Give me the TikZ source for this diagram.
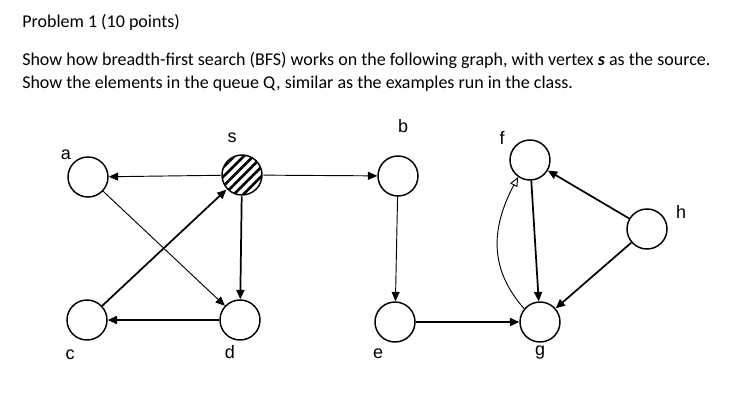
\documentclass[tikz,border=0pt]{standalone}
\usepackage{fontspec}
\setmainfont{Carlito}
\newfontfamily\lab{Liberation Sans}
\usetikzlibrary{arrows.meta,patterns.meta}
\begin{document}
\begin{tikzpicture}[x=0.75pt,y=-0.75pt,
  vtx/.style={circle,draw,line width=1.1pt,minimum size=30pt,inner sep=0pt},
  lbl/.style={font=\lab\fontsize{13.5}{13.5}\selectfont},
  txt/.style={anchor=west,font=\fontsize{13.5}{15}\selectfont,inner sep=0pt},
  edge/.style={-{Triangle[length=7pt,width=6pt]},line width=0.7pt},
  thick edge/.style={edge,line width=1.3pt}]
\useasboundingbox (0,0) rectangle (730,400);
\node[txt] (t1) at (22,22) {Problem 1 (10 points)};
\node[txt] (t2) at (22,60) {Show how breadth-first search (BFS) works on the following graph, with vertex \textbf{\textit{s}} as the source.};
\node[txt] (t3) at (22,84) {Show the elements in the queue Q, similar as the examples run in the class.};
\node[vtx] (a) at (88,177) {};
\node[vtx,pattern={Lines[angle=45,distance=5pt,line width=2pt]}] (s) at (242,175) {};
\node[vtx] (b) at (398,176) {};
\node[vtx] (c) at (87,320) {};
\node[vtx] (d) at (240,320) {};
\node[vtx] (e) at (395,322) {};
\node[vtx] (f) at (530,160) {};
\node[vtx] (g) at (540,322) {};
\node[vtx] (h) at (647,229) {};
\node[lbl] (la) at (66,155) {a};
\node[lbl] (ls) at (232,138) {s};
\node[lbl] (lb) at (403,126) {b};
\node[lbl] (lc) at (70,355) {c};
\node[lbl] (ld) at (230,352) {d};
\node[lbl] (le) at (378,354) {e};
\node[lbl] (lf) at (502,138) {f};
\node[lbl] (lg) at (540,353) {g};
\node[lbl] (lh) at (681,212) {h};
\draw[edge] (s) -- (a);
\draw[edge] (s) -- (b);
\draw[thick edge] (s) -- (d);
\draw[edge] (a) -- (d);
\draw[thick edge] (c) -- (s);
\draw[thick edge] (d) -- (c);
\draw[edge] (b) -- (e);
\draw[thick edge] (e) -- (g);
\draw[thick edge] (f) -- (g);
\draw[thick edge] (h) -- (f);
\draw[thick edge] (h) -- (g);
\draw[edge,-{Triangle[open,length=7pt,width=6pt]}] (g.140) .. controls (490,270) and (490,230) .. (f.235);
\end{tikzpicture}
\end{document}
